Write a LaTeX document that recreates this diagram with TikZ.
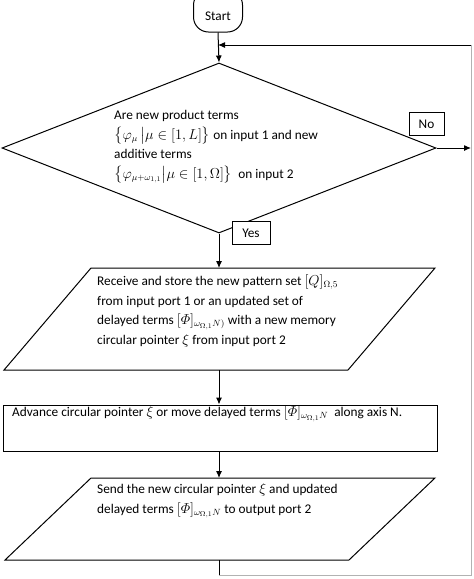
\documentclass[tikz,border=0pt]{standalone}
\usepackage{amsmath}
\usepackage{fontspec}
\setmainfont{Carlito}
\usetikzlibrary{shapes.geometric,arrows.meta}

\tikzset{
  blocco/.style={draw, line width=1pt, inner sep=0pt},
  cornice/.style={inner sep=0pt, outer sep=0pt},
  bordo/.style={line width=1pt, line join=miter},
  testo/.style={align=left, inner sep=0pt, font=\fontsize{13.3}{19.5}\selectfont},
  freccia/.style={line width=1pt, -{Latex[length=7pt,width=6pt]}},
  etichetta/.style={blocco, testo, minimum height=23pt, inner xsep=5pt}
}

\begin{document}
\begin{tikzpicture}[x=1pt, y=-1pt]
        \useasboundingbox (0,0) rectangle (474,579);
        \clip (0,0) rectangle (474,579);

        % blocchi del diagramma (forme vuote, il testo va sopra)
        \node[blocco, rounded corners=15pt, minimum width=49pt, text height=30pt, text depth=12pt, anchor=base, testo] (start) at (218,20) {Start};
        \node[blocco, diamond, minimum width=434pt, minimum height=170pt] (dec) at (219,148) {};
        \node[cornice, minimum width=431pt, minimum height=102pt] (rec1) at (219.5,319) {};
        \node[blocco, minimum width=434pt, minimum height=46pt] (rec2) at (220,428) {};
        \node[cornice, minimum width=430pt, minimum height=82pt] (rec3) at (220,519) {};

        % parallelogrammi costruiti sugli angoli dei riquadri
        \draw[bordo] ([xshift=87pt]rec1.north west) -- (rec1.north east)
          -- ([xshift=-87pt]rec1.south east) -- (rec1.south west) -- cycle;
        \draw[bordo] ([xshift=86pt]rec3.north west) -- (rec3.north east)
          -- ([xshift=-86pt]rec3.south east) -- (rec3.south west) -- cycle;

        % testi
        \node[testo, anchor=west] (tdec) at (114,147) {Are new product terms\\
          $\bigl\{\varphi_{\mu}\,\big|\mu\in[1,L]\bigr\}$ on input 1 and new\\
          additive terms\\
          $\bigl\{\varphi_{\mu+\omega_{1,1}}\big|\mu\in[1,\Omega]\bigr\}$ \ on input 2};
        \node[testo, anchor=west] (trec1) at (97,311) {Receive and store the new pattern set $[Q]_{\Omega,5}$\\
          from input port 1 or an updated set of\\
          delayed terms $[\varPhi]_{\omega_{\Omega,1}N)}$ with a new memory\\
          circular pointer $\xi$ from input port 2};
        \node[testo, anchor=west] (trec2) at (12,414) {Advance circular pointer $\xi$ or move delayed terms $[\varPhi]_{\omega_{\Omega,1}N}$ \ along axis N.};
        \node[testo, anchor=west] (trec3) at (97,501) {Send the new circular pointer $\xi$ and updated\\
          delayed terms $[\varPhi]_{\omega_{\Omega,1}N}$ to output port 2};

        % etichette Si / No
        \node[etichetta, minimum width=35pt] (no) at (426.5,124) {No};
        \node[etichetta, minimum width=38pt, fill=white] (yes) at (251,233) {Yes};

        % punti del ciclo di ritorno
        \coordinate (join) at (218,45);
        \coordinate (ret) at (471,575);

        % frecce
        \draw[freccia] (start.south) -- (dec.north);
        \draw[freccia] (dec.south) -- (dec.south |- rec1.north);
        \draw[freccia] (dec.south |- rec1.south) -- (dec.south |- rec2.north);
        \draw[freccia] (dec.south |- rec2.south) -- (dec.south |- rec3.north);
        \draw[freccia] (dec.east) -- (dec.east -| ret);
        \draw[line width=1pt] (dec.south |- rec3.south) -- (dec.south |- ret);
        \draw[line width=1pt, black!30] (dec.south |- ret) -- (ret) -- (ret |- join);
        \draw[freccia] (ret |- join) -- (join);
\end{tikzpicture}
\end{document}
